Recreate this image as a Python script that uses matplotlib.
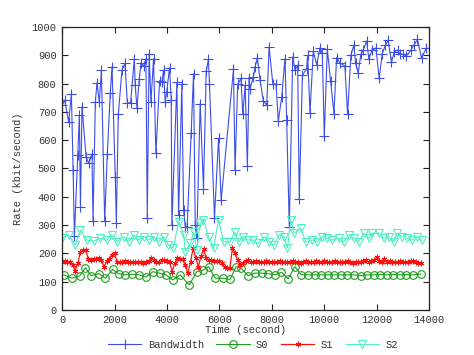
import numpy as np
import matplotlib.pyplot as plt

# Bandwidth samples (time in s, rate in kbit/s)
bw_time = [0, 100, 250, 355, 420, 470, 595, 660, 700, 760, 915, 1015, 1140, 1180,
           1270, 1330, 1420, 1500, 1625, 1725, 1840, 1905, 2030, 2070, 2145, 2285,
           2400, 2490, 2615, 2755, 2790, 2855, 2945, 3010, 3110, 3200, 3250, 3320,
           3390, 3490, 3580, 3720, 3810, 3870, 3935, 3990, 4100, 4165, 4190, 4380,
           4445, 4570, 4635, 4700, 4770, 4925, 5015, 5080, 5140, 5270, 5395, 5500,
           5585, 5625, 5815, 5970, 6070, 6540, 6600, 6700, 6830, 6895, 6985, 7070,
           7135, 7175, 7300, 7365, 7450, 7555, 7680, 7810, 7900, 8040, 8165, 8250,
           8380, 8505, 8570, 8670, 8800, 8890, 8990, 9050, 9170, 9330, 9370, 9460,
           9585, 9715, 9840, 9930, 10005, 10120, 10245, 10375, 10475, 10600, 10790,
           10895, 11020, 11135, 11200, 11300, 11400, 11500, 11620, 11705, 11830,
           11975, 12100, 12215, 12340, 12440, 12570, 12680, 12800, 12900, 13015,
           13140, 13305, 13430, 13560, 13715, 13905]
bw_rate = [723, 741, 665, 762, 494, 261, 547, 688, 365, 718, 541, 518, 551, 315,
           735, 802, 735, 847, 314, 551, 767, 859, 470, 308, 692, 847,
           871, 732, 732, 888, 794, 715, 815, 873, 861, 888, 324, 906,
           735, 888, 553, 810, 806, 847, 735, 770, 855, 741, 300, 804,
           335, 797, 353, 294, 294, 624, 835, 300, 253, 729, 429, 843,
           886, 797, 326, 606, 388, 850, 494, 797, 818, 691, 794, 508,
           820, 782, 824, 859, 891, 812, 738, 724, 929, 800, 797, 667,
           753, 888, 671, 294, 894, 847, 865, 392, 829, 853, 900, 697,
           914, 867, 926, 909, 614, 921, 808, 694, 892, 874, 862,
           691, 900, 936, 871, 838, 903, 920, 950, 888, 918,
           926, 818, 906, 936, 953, 876, 912, 918, 905, 903,
           898, 918, 936, 956, 891, 926]

# S0
s0_time = [60, 380, 680, 890, 1110, 1400, 1650, 1930, 2160, 2410, 2670, 2920, 3200,
           3460, 3720, 3960, 4230, 4510, 4850, 5140, 5390, 5590, 5840, 6130, 6410,
           6640, 6840, 7100, 7360, 7610, 7860, 8120, 8370, 8630, 8880, 9130, 9380,
           9640, 9890, 10140, 10390, 10640, 10890, 11140, 11390, 11640, 11890,
           12140, 12390, 12640, 12890, 13140, 13390, 13680]
s0_rate = [124, 112, 121, 149, 121, 128, 112, 143, 128, 124, 126, 124, 116,
           135, 130, 124, 106, 124, 88, 135, 141, 153, 112, 112, 108,
           153, 147, 121, 130, 130, 128, 124, 133, 110, 153, 124, 124,
           124, 124, 124, 124, 124, 124, 124, 121, 124, 124,
           125, 124, 125, 124, 125, 124, 127]

# S1
s1_time = [0, 100, 200, 300, 400, 500, 600, 700, 800, 900, 1000, 1100, 1200, 1300,
           1400, 1500, 1600, 1700, 1800, 1900, 2000, 2100, 2200, 2300, 2400, 2500,
           2600, 2700, 2800, 2900, 3000, 3100, 3200, 3300, 3400, 3500, 3600, 3700,
           3800, 3900, 4000, 4100, 4200, 4300, 4400, 4500, 4600, 4700, 4800, 4900,
           5000, 5100, 5200, 5300, 5400, 5500, 5600, 5700, 5800, 5900, 6000, 6100,
           6200, 6300, 6400, 6500, 6600, 6700, 6800, 6900, 7000, 7100, 7200, 7300,
           7400, 7500, 7600, 7700, 7800, 7900, 8000, 8100, 8200, 8300, 8400, 8500,
           8600, 8700, 8800, 8900, 9000, 9100, 9200, 9300, 9400, 9500, 9600, 9700,
           9800, 9900, 10000, 10100, 10200, 10300, 10400, 10500, 10600, 10700,
           10800, 10900, 11000, 11100, 11200, 11300, 11400, 11500, 11600, 11700,
           11800, 11900, 12000, 12100, 12200, 12300, 12400, 12500, 12600, 12700,
           12800, 12900, 13000, 13100, 13200, 13300, 13400, 13500, 13600, 13700]
s1_rate = [171, 172, 170, 168, 160, 139, 165, 206, 210, 212, 180, 177, 179, 180,
           182, 175, 153, 172, 179, 195, 200, 171, 168, 170, 172, 168,
           170, 169, 171, 168, 170, 165, 170, 172, 182, 175, 171, 168,
           175, 177, 172, 170, 135, 165, 182, 181, 179, 160, 129, 170,
           218, 185, 153, 190, 214, 182, 178, 175, 174, 172, 174, 165,
           150, 148, 147, 218, 200, 176, 160, 165, 172, 176, 170, 168,
           172, 170, 171, 169, 172, 170, 168, 171, 170, 173, 169, 171,
           170, 168, 172, 170, 171, 167, 170, 172, 169, 171, 170, 173,
           171, 169, 172, 170, 168, 171, 173, 170, 168, 171,
           169, 172, 170, 167, 169, 171, 170, 172, 175, 170,
           172, 176, 186, 172, 171, 179, 170, 172, 169, 171,
           170, 172, 169, 171, 170, 172, 174, 171, 167, 165]

# S2
s2_time = [0, 250, 500, 700, 950, 1200, 1460, 1710, 1900, 2100, 2350, 2540, 2730,
           2920, 3110, 3300, 3490, 3680, 3870, 4060, 4250, 4445, 4640, 4700, 4890,
           5020, 5140, 5270, 5390, 5590, 5780, 5970, 6160, 6410, 6580, 6755, 6890,
           7080, 7270, 7460, 7710, 7900, 8090, 8280, 8470, 8600, 8730, 8850, 9105,
           9295, 9550, 9740, 9930, 10120, 10310, 10560, 10750, 10940, 11130, 11320,
           11510, 11700, 11830, 12080, 12270, 12460, 12650, 12780, 12970, 13160,
           13350, 13540, 13730]
s2_rate = [253, 265, 229, 282, 247, 243, 253, 247, 265, 241, 259, 241, 265,
           247, 259, 247, 259, 241, 259, 229, 218, 312, 265, 206, 235,
           276, 212, 306, 318, 259, 218, 318, 241, 241, 276, 241, 259,
           247, 247, 235, 259, 241, 229, 265, 259, 218, 318, 271, 288,
           241, 247, 241, 259, 253, 247, 253, 241, 265, 253, 241,
           271, 253, 271, 271, 253, 259, 241, 271, 259, 253,
           247, 259, 247]

plt.rcParams['font.family'] = 'Liberation Mono'
plt.rcParams['font.size'] = 7.5
plt.rcParams['text.color'] = '#333333'
plt.rcParams['axes.labelcolor'] = '#333333'

fig = plt.figure(figsize=(4.74, 3.55), dpi=100)
ax = fig.add_axes([0.131, 0.127, 0.774, 0.797])

ax.plot(bw_time, bw_rate, color='#3d4ee6', lw=0.8, marker='+', ms=6.5, mew=0.8,
        label='Bandwidth')
ax.plot(s0_time, s0_rate, color='#1e9e1e', lw=0.8, marker='o', ms=5.5, mew=0.8,
        mfc='none', label='S0')
ax.plot(s1_time, s1_rate, color='#ff1010', lw=0.9, marker=(6, 2, 0), ms=4, mew=0.7,
        label='S1')
ax.plot(s2_time, s2_rate, color='#4ff0c4', lw=0.8, marker='v', ms=6, mew=0.8,
        mfc='none', label='S2')

ax.set_xlim(0, 14000)
ax.set_ylim(0, 1000)
ax.set_xticks(np.arange(0, 14001, 2000))
ax.set_yticks(np.arange(0, 1001, 100))
ax.tick_params(direction='in', top=True, right=True, length=4, width=0.8,
               color='#222222', labelcolor='#333333', pad=4)
for s in ax.spines.values():
    s.set_linewidth(0.9)
    s.set_color('#222222')

ax.set_xlabel('Time (second)', labelpad=0)
ax.set_ylabel('Rate (kbit/second)', labelpad=6)

ax.legend(loc='upper center', bbox_to_anchor=(0.52, -0.09), ncol=4, frameon=False,
          handlelength=3.2, columnspacing=1.2, handletextpad=0.6, borderaxespad=0)

fig.savefig('out.png', dpi=100)
